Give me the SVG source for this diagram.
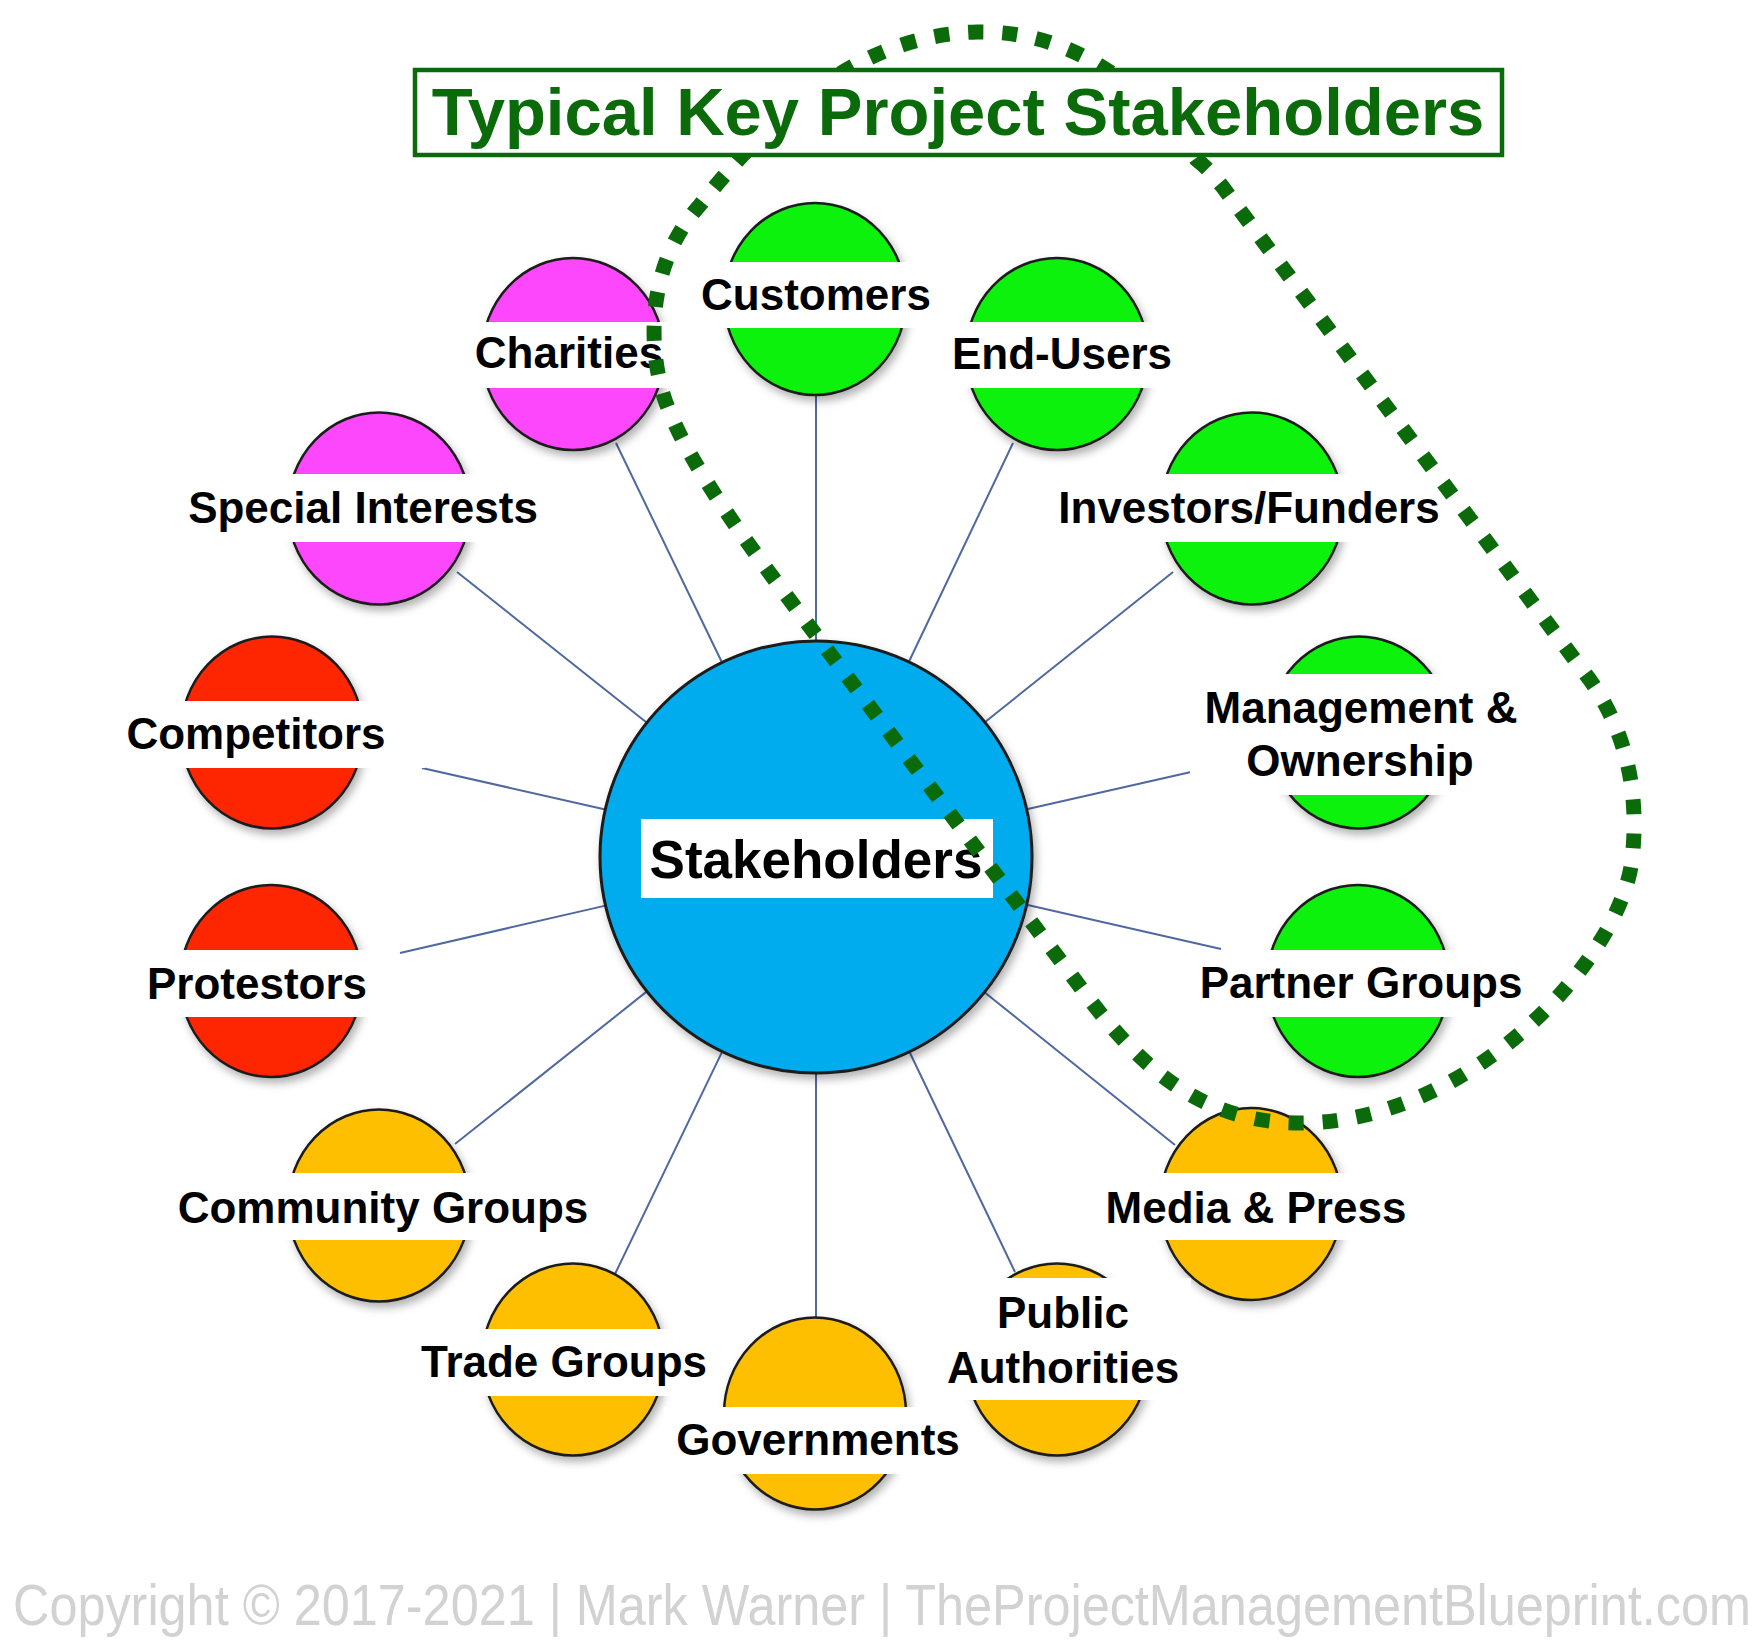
<svg xmlns="http://www.w3.org/2000/svg" width="1760" height="1640" viewBox="0 0 1760 1640">
  <defs>
    <filter id="sh" x="-20%" y="-20%" width="150%" height="150%">
      <feDropShadow dx="3" dy="5" stdDeviation="4" flood-color="#000" flood-opacity="0.3"/>
    </filter>
    <style>
      .node ellipse { stroke: #1c1c1c; stroke-width: 2.5; filter: url(#sh); }
      .g ellipse { fill: #0af20a; }
      .m ellipse { fill: #fc46fc; }
      .r ellipse { fill: #fe2600; }
      .o ellipse { fill: #fdbf00; }
      .band { fill: #ffffff; }
      .lbl { font-family: "Liberation Sans", Arial, Helvetica, sans-serif; font-weight: bold; font-size: 44px; fill: #000; text-anchor: middle; }
      .conn line { stroke: #5068a0; stroke-width: 2; }
      .loop { fill: none; stroke: #0b6b0b; stroke-width: 15; stroke-dasharray: 15 19; }
    </style>
  </defs>
  <rect x="0" y="0" width="1760" height="1640" fill="#ffffff"/>

  <g id="connectors" class="conn">
    <line x1="816" y1="641" x2="816" y2="395"/>
    <line x1="722" y1="662.5" x2="616" y2="443"/>
    <line x1="908.8" y1="662" x2="1013" y2="443"/>
    <line x1="646.9" y1="722.7" x2="457" y2="572"/>
    <line x1="984.8" y1="722.2" x2="1173" y2="572"/>
    <line x1="605.3" y1="809.4" x2="422" y2="768"/>
    <line x1="1026.7" y1="809.2" x2="1191" y2="772"/>
    <line x1="605.5" y1="905.6" x2="400" y2="953"/>
    <line x1="1026.6" y1="904.8" x2="1221" y2="949"/>
    <line x1="646.9" y1="991.4" x2="455" y2="1144"/>
    <line x1="984.5" y1="992.2" x2="1175" y2="1145"/>
    <line x1="722.2" y1="1051.6" x2="615" y2="1274"/>
    <line x1="816" y1="1073" x2="816" y2="1319"/>
    <line x1="909.4" y1="1051.8" x2="1015" y2="1272"/>
  </g>

  <g id="center">
    <circle cx="816" cy="857" r="216" fill="#00acee" stroke="#1a1a1a" stroke-width="3" filter="url(#sh)"/>
    <rect class="band" x="641" y="819" width="352" height="79"/>
    <text class="lbl" x="816" y="878" style="font-size:53px">Stakeholders</text>
  </g>

  <g id="customers" class="node g">
    <ellipse cx="815" cy="299" rx="91" ry="96"/>
    <rect class="band" x="689" y="262" width="254" height="66"/>
    <text class="lbl" x="816" y="310">Customers</text>
  </g>
  <g id="charities" class="node m">
    <ellipse cx="573" cy="354" rx="91" ry="96"/>
    <rect class="band" x="466" y="322" width="210" height="66"/>
    <text class="lbl" x="569" y="368">Charities</text>
  </g>
  <g id="end-users" class="node g">
    <ellipse cx="1057" cy="354" rx="91" ry="96"/>
    <rect class="band" x="940" y="322" width="244" height="66"/>
    <text class="lbl" x="1062" y="369">End-Users</text>
  </g>
  <g id="special-interests" class="node m">
    <ellipse cx="379" cy="508.5" rx="91" ry="96"/>
    <rect class="band" x="175" y="474" width="377" height="68"/>
    <text class="lbl" x="363" y="523">Special Interests</text>
  </g>
  <g id="investors-funders" class="node g">
    <ellipse cx="1252" cy="508.5" rx="91" ry="96"/>
    <rect class="band" x="1045" y="474" width="407" height="68"/>
    <text class="lbl" x="1249" y="523">Investors/Funders</text>
  </g>
  <g id="competitors" class="node r">
    <ellipse cx="272" cy="732.5" rx="91" ry="96"/>
    <rect class="band" x="113" y="701" width="312" height="67"/>
    <text class="lbl" x="256" y="749">Competitors</text>
  </g>
  <g id="management-ownership" class="node g">
    <ellipse cx="1359" cy="732.5" rx="91" ry="96"/>
    <rect class="band" x="1190" y="674" width="343" height="121"/>
    <text class="lbl" x="1361" y="723">Management &amp;</text>
    <text class="lbl" x="1360" y="776">Ownership</text>
  </g>
  <g id="protestors" class="node r">
    <ellipse cx="271" cy="981" rx="91" ry="96"/>
    <rect class="band" x="135" y="950" width="245" height="67"/>
    <text class="lbl" x="257" y="999">Protestors</text>
  </g>
  <g id="partner-groups" class="node g">
    <ellipse cx="1358" cy="981" rx="91" ry="96"/>
    <rect class="band" x="1189" y="950" width="344" height="67"/>
    <text class="lbl" x="1361" y="998">Partner Groups</text>
  </g>
  <g id="community-groups" class="node o">
    <ellipse cx="379" cy="1205.5" rx="91" ry="96"/>
    <rect class="band" x="167" y="1173" width="433" height="67"/>
    <text class="lbl" x="383" y="1223">Community Groups</text>
  </g>
  <g id="media-press" class="node o">
    <ellipse cx="1251" cy="1204" rx="91" ry="96"/>
    <rect class="band" x="1095" y="1173" width="322" height="67"/>
    <text class="lbl" x="1256" y="1223">Media &amp; Press</text>
  </g>
  <g id="trade-groups" class="node o">
    <ellipse cx="573" cy="1359.5" rx="91" ry="96"/>
    <rect class="band" x="410" y="1329" width="308" height="67"/>
    <text class="lbl" x="564" y="1377">Trade Groups</text>
  </g>
  <g id="governments" class="node o">
    <ellipse cx="815" cy="1413.5" rx="91" ry="96"/>
    <rect class="band" x="664" y="1407" width="308" height="67"/>
    <text class="lbl" x="818" y="1455">Governments</text>
  </g>
  <g id="public-authorities" class="node o">
    <ellipse cx="1057" cy="1359.5" rx="91" ry="96"/>
    <rect class="band" x="936" y="1278" width="255" height="122"/>
    <text class="lbl" x="1063" y="1328">Public</text>
    <text class="lbl" x="1063" y="1383">Authorities</text>
  </g>

  <g id="loop">
    <path class="loop" d="M 1196,159 C 1210,170 1215,178 1222,186 L 1590,680 C 1625,730 1640,790 1632,860 C 1620,960 1470,1123 1300,1123 C 1200,1123 1140,1065 1090,1000 L 810,627 C 760,560 690,470 665,400 C 645,340 650,260 700,205 C 760,130 850,35 977,32 C 1080,30 1150,95 1196,159 Z"/>
  </g>

  <g id="title">
    <rect x="415" y="70" width="1087" height="85" fill="#ffffff" stroke="#0b6b0b" stroke-width="4.5"/>
    <text x="958" y="135" font-family="'Liberation Sans', Arial, Helvetica, sans-serif" font-weight="bold" font-size="67" fill="#0b6b0b" text-anchor="middle">Typical Key Project Stakeholders</text>
  </g>

  <g id="copyright">
    <text x="13" y="1625" font-family="'Liberation Sans', Arial, Helvetica, sans-serif" font-size="58" fill="#d2d2d2" textLength="1738" lengthAdjust="spacingAndGlyphs">Copyright © 2017-2021 | Mark Warner | TheProjectManagementBlueprint.com</text>
  </g>
</svg>
